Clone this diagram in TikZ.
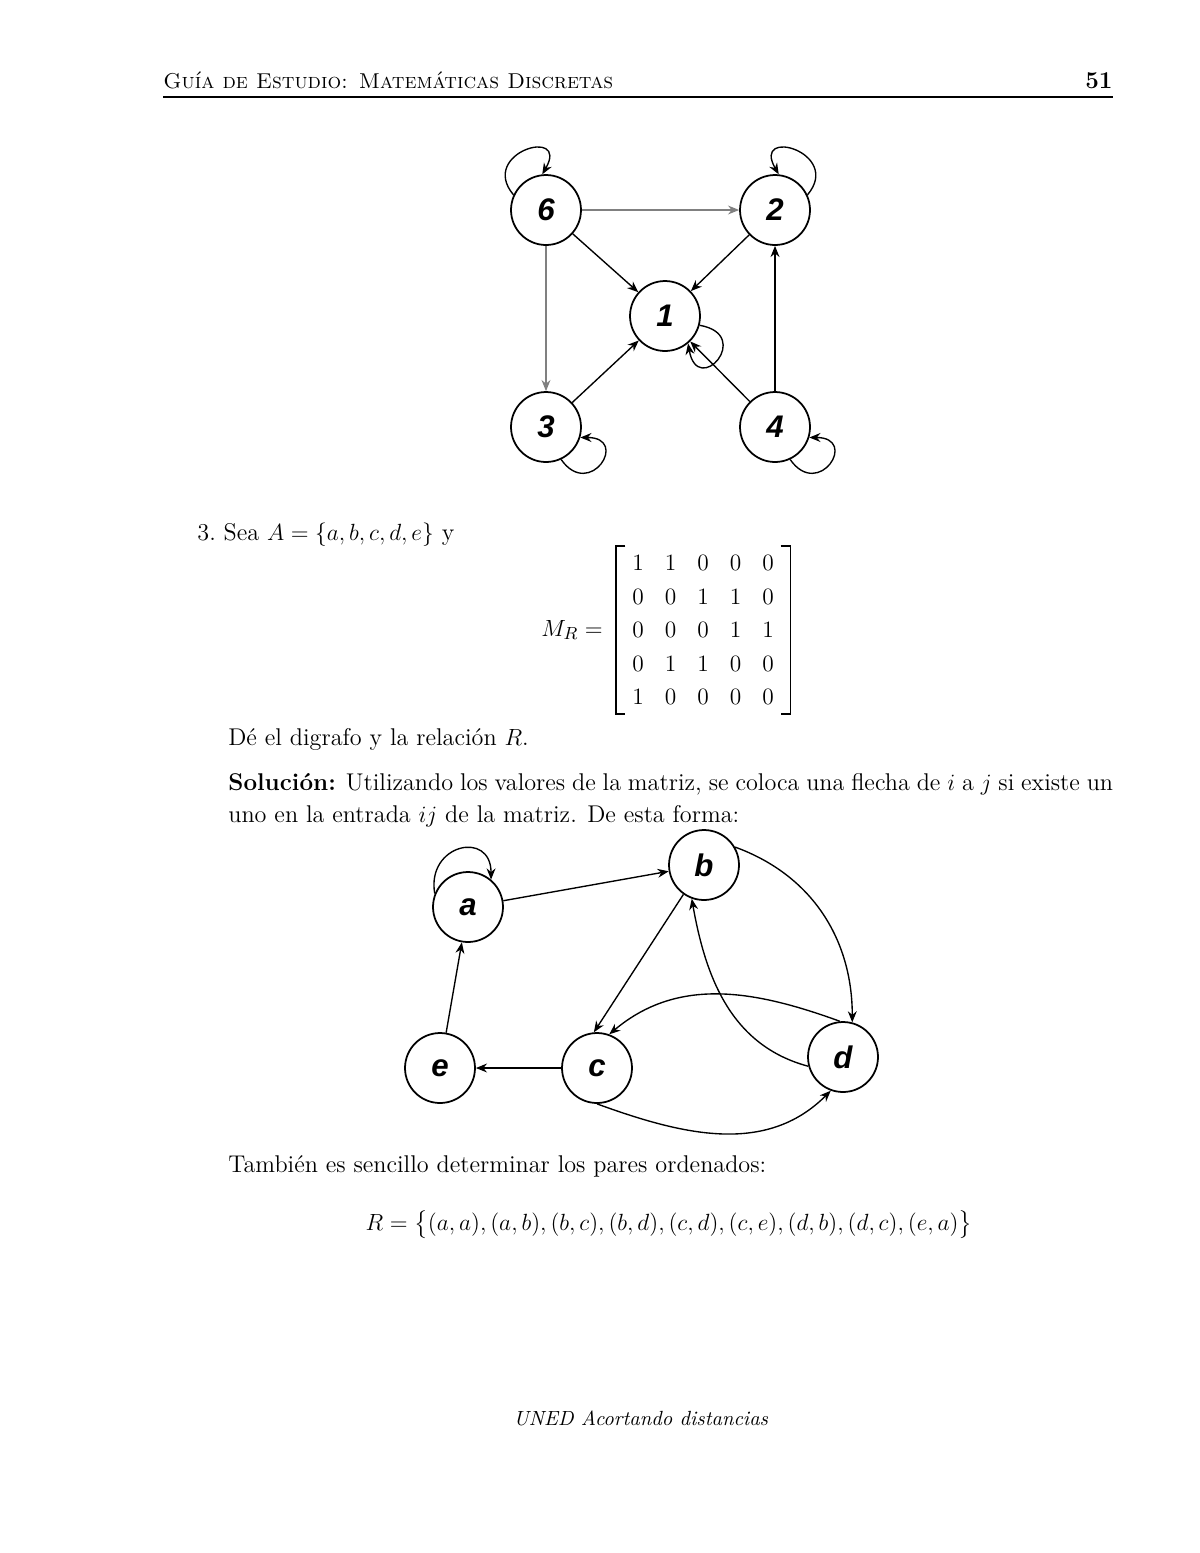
\documentclass[tikz,border=0pt]{standalone}
\usepackage{amsmath}
\usepackage{fontspec}
\newfontfamily\grafofont{Liberation Sans}
\usetikzlibrary{arrows.meta, positioning, matrix}
\tikzset{
    vertice/.style={circle, draw, line width=0.9pt, minimum size=1.26cm, inner sep=0pt,
                    font={\grafofont\bfseries\itshape\fontsize{16}{16}\selectfont}},
    flecha/.style={line width=0.7pt, -{Stealth[length=2mm, width=1.6mm]}},
    tenue/.style={flecha, draw=gray},
    gruesa/.style={flecha, line width=1.1pt},
    texto/.style={anchor=base west, inner sep=0pt, font=\fontsize{12.4}{16}\selectfont},
    entrada/.style={minimum width=0.585cm, minimum height=0.603cm, inner sep=0pt,
                    font=\fontsize{13}{15}\selectfont},
    corchete/.style={line width=1pt}
}

\begin{document}
\begin{tikzpicture}[x=0.018cm, y=-0.018cm]
    \useasboundingbox (0,0) rectangle (1200,1553);

    % Encabezado
    \node[texto, font=\fontsize{11}{13}\selectfont] (titulo) at (163,88)
        {\textsc{Guía de Estudio: Matemáticas Discretas}};
    \node[texto, anchor=base east, font=\fontsize{12.4}{14}\selectfont] (pagina) at (1113,88) {\textbf{51}};
    \draw[line width=0.6pt] (163,97) -- (1113,97);

    % Digrafo del ejercicio anterior
    \node[vertice] (n6) at (546,210) {6};
    \node[vertice] (n2) at (775,210) {2};
    \node[vertice] (n1) at (665,316) {1};
    \node[vertice] (n3) at (546,427) {3};
    \node[vertice] (n4) at (775,427) {4};

    \draw[tenue] (n6) -- (n2);
    \draw[tenue] (n6) -- (n3);
    \draw[flecha] (n6) -- (n1);
    \draw[flecha] (n2) -- (n1);
    \draw[flecha] (n3) -- (n1);
    \draw[flecha] (n4) -- (n1);
    \draw[gruesa] (n4) -- (n2);

    % Lazos
    \draw[flecha] (n6.155) to[out=130, in=60, distance=1cm] (n6.96);
    \draw[flecha] (n2.25) to[out=50, in=120, distance=1cm] (n2.84);
    \draw[flecha] (n1.-15) to[out=-10, in=-80, distance=1cm] (n1.-50);
    \draw[flecha] (n3.-65) to[out=-55, in=0, distance=0.9cm] (n3.-17);
    \draw[flecha] (n4.-65) to[out=-55, in=0, distance=0.9cm] (n4.-17);

    % Enunciado
    \node[texto] (enunciado) at (197,540) {3.\ Sea $A=\{a,b,c,d,e\}$ y};

    % Matriz de la relacion
    \matrix (mr) at (703,630) [matrix of math nodes, nodes={entrada}, inner sep=0pt, inner xsep=3pt] {
        1 & 1 & 0 & 0 & 0\\
        0 & 0 & 1 & 1 & 0\\
        0 & 0 & 0 & 1 & 1\\
        0 & 1 & 1 & 0 & 0\\
        1 & 0 & 0 & 0 & 0\\
    };
    \draw[corchete] ([xshift=5pt]mr.north west) -- (mr.north west) -- (mr.south west) -- ([xshift=5pt]mr.south west);
    \draw[corchete] ([xshift=-5pt]mr.north east) -- (mr.north east) -- (mr.south east) -- ([xshift=-5pt]mr.south east);
    \node[left=3pt of mr, font=\fontsize{13}{15}\selectfont] (mrnombre) {$M_R =$};

    \node[texto] (pide) at (228,745) {Dé el digrafo y la relación $R$.};
    \node[texto] (sol1) at (228,790) {\makebox[15.93cm][s]{\textbf{Solución:} Utilizando los valores de la matriz, se coloca una flecha de $i$ a $j$ si existe un}};
    \node[texto] (sol2) at (228,822) {uno en la entrada $ij$ de la matriz. De esta forma:};

    % Digrafo de la relacion R
    \node[vertice] (a) at (468,907) {a};
    \node[vertice] (b) at (704,865) {b};
    \node[vertice] (e) at (440,1068) {e};
    \node[vertice] (c) at (597,1068) {c};
    \node[vertice] (d) at (843,1057) {d};

    \draw[flecha] (a.158) to[out=100, in=90, distance=0.9cm] (a.50);
    \draw[flecha] (a) -- (b);
    \draw[flecha] (b.235) -- (c.95);
    \draw[flecha] (b.30) to[out=-20, in=90] (d.75);
    \draw[flecha] (d.195) to[out=165, in=-80] (b.250);
    \draw[flecha] (d.95) to[out=160, in=40] (c.70);
    \draw[flecha] (c.-90) to[out=-20, in=-135] (d.250);
    \draw[flecha] (c) -- (e);
    \draw[flecha] (e) -- (a);

    % Pares ordenados
    \node[texto] (tambien) at (228,1172) {También es sencillo determinar los pares ordenados:};
    \node[texto, anchor=base, font=\fontsize{13}{17}\selectfont] (rel) at (669,1230)
        {$R = \big\{(a,a),(a,b),(b,c),(b,d),(c,d),(c,e),(d,b),(d,c),(e,a)\big\}$};

    % Pie de pagina
    \node[texto, anchor=base, font=\fontsize{10.5}{13}\selectfont] (pie) at (641,1425)
        {\textit{UNED Acortando distancias}};
\end{tikzpicture}
\end{document}
